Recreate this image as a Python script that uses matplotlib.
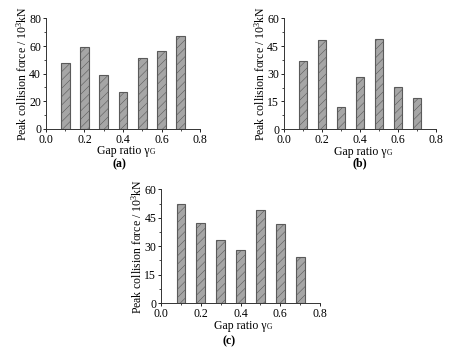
import matplotlib
matplotlib.use("Agg")
import matplotlib.pyplot as plt
from matplotlib.ticker import AutoMinorLocator

plt.rcParams['font.family'] = ['Liberation Serif', 'DejaVu Serif']
plt.rcParams['mathtext.fontset'] = 'custom'
plt.rcParams['mathtext.rm'] = 'Liberation Serif'
plt.rcParams['mathtext.it'] = 'Liberation Serif:italic'
plt.rcParams['hatch.color'] = '#8a8a8a'
plt.rcParams['hatch.linewidth'] = 0.4

gap = [0.1, 0.2, 0.3, 0.4, 0.5, 0.6, 0.7]
force_a = [48, 59, 39, 27, 51.5, 56.5, 67]
force_b = [37, 48.5, 12, 28.5, 49, 23, 17]
force_c = [52, 42, 33.5, 28, 49, 41.5, 24.5]
xticks = [0.0, 0.2, 0.4, 0.6, 0.8]
yticks_a = [0, 20, 40, 60, 80]
yticks_bc = [0, 15, 30, 45, 60]
panel_labels = ['(a)', '(b)', '(c)']

fig = plt.figure(figsize=(4.74, 3.48), dpi=100)
rects = [[0.097, 0.630, 0.325, 0.317],
         [0.599, 0.629, 0.321, 0.318],
         [0.340, 0.129, 0.335, 0.327]]
datas = [force_a, force_b, force_c]
yts = [yticks_a, yticks_bc, yticks_bc]
label_pos = [(0.253, 0.528), (0.760, 0.530), (0.483, 0.018)]

axes = []
for rect, data, yt, lab, lp in zip(rects, datas, yts, panel_labels, label_pos):
    ax = fig.add_axes(rect)
    ax.bar(gap, data, width=0.045, color='#a6a6a6', edgecolor='#5a5a5a',
           linewidth=0.8, hatch='////')
    ax.set_xlim(0, 0.8)
    ax.set_ylim(yt[0], yt[-1])
    ax.set_xticks(xticks)
    ax.set_xticklabels(['%.1f' % v for v in xticks])
    ax.set_yticks(yt)
    ax.xaxis.set_minor_locator(AutoMinorLocator(2))
    ax.yaxis.set_minor_locator(AutoMinorLocator(2))
    ax.spines['top'].set_visible(False)
    ax.spines['right'].set_visible(False)
    for s in ['left', 'bottom']:
        ax.spines[s].set_linewidth(0.7)
        ax.spines[s].set_color('#333333')
    ax.tick_params(which='major', direction='out', length=2.5, width=0.6,
                   labelsize=8.5, pad=1)
    ax.tick_params(which='minor', direction='out', length=1.5, width=0.5)
    ax.set_xlabel('Gap ratio \u03b3', fontsize=8.5, labelpad=-0.3)
    ax.set_ylabel(r'Peak collision force / 10$^3$kN', fontsize=8.5, labelpad=0)
    fig.text(lp[0], lp[1], lab, fontsize=8.5, fontweight='bold', ha='center', va='center')
    axes.append(ax)

fig.canvas.draw()
W, H = fig.bbox.width, fig.bbox.height
for ax in axes:
    bb = ax.xaxis.label.get_window_extent()
    fig.text((bb.x1 + 0.3) / W, (bb.y0 + 0.8) / H, 'G', fontsize=5.5,
             ha='left', va='bottom')

fig.savefig('out.png', dpi=100)
